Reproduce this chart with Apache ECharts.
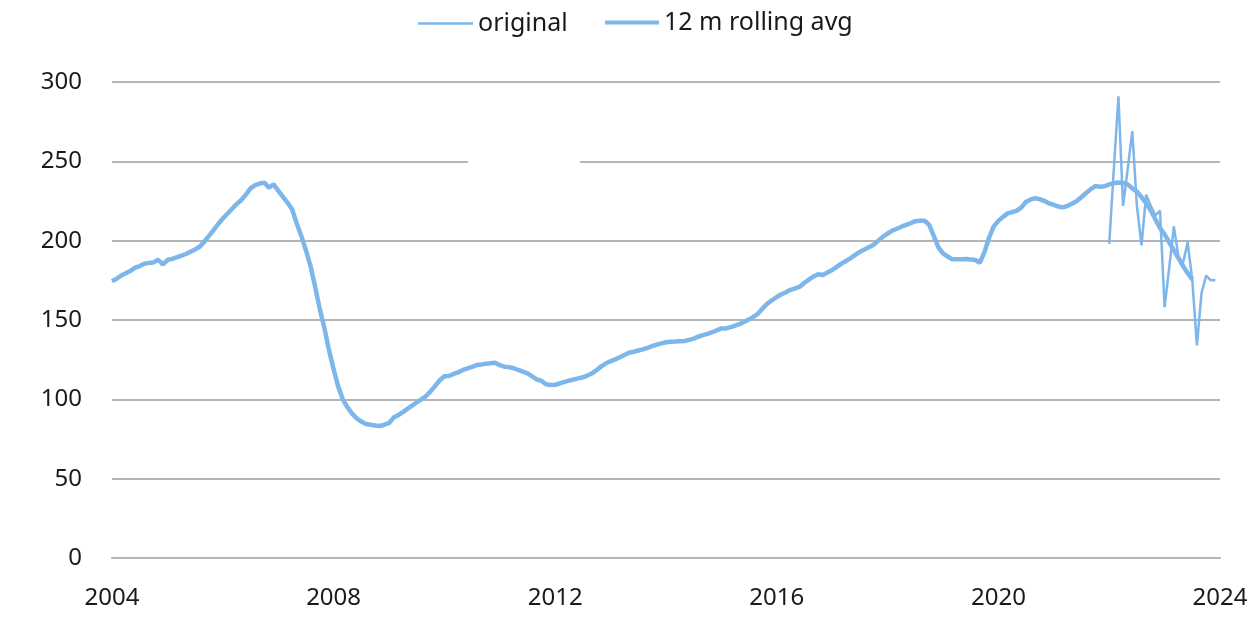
<!DOCTYPE html>
<html>
<head>
<meta charset="utf-8">
<script src="https://cdn.jsdelivr.net/npm/echarts@6/dist/echarts.min.js"></script>
<style>
  html, body { margin: 0; padding: 0; background: #fff; }
  #chart { width: 1260px; height: 628px; }
</style>
</head>
<body>
<div id="chart"></div>
<script>
// monthly, starting Jan 2004
const startYear = 2004;
const monthCount = 241; // Jan 2004 .. Jan 2024

// 12 m rolling avg, Jan 2004 .. Jul 2023
const rollingAvg = [
  174.5, 176, 178, 179.5, 181, 183, 184, 185.5, 186, 186.3, 188, 185,
  187.8, 188.5, 189.5, 190.5, 191.6, 193, 194.5, 196.2, 199.4, 203, 206.7, 210.5,
  214, 217, 220, 223, 225.6, 229, 233, 235, 236, 236.6, 233.4, 235.5,
  231.5, 227.7, 224, 219.8, 211, 203, 194, 184, 171, 157, 145, 131,
  119, 108, 100, 95, 91, 88, 86, 84.5, 84, 83.5, 83.2, 84,
  85, 88.5, 90, 92, 94, 96, 98, 100, 102, 105, 108.5, 112,
  114.5, 114.7, 116, 117, 118.5, 119.5, 120.5, 121.6, 122, 122.5, 122.7, 123,
  121.5, 120.6, 120.3, 119.6, 118.5, 117.5, 116.4, 114.5, 112.6, 111.7, 109.5, 109,
  109.2, 110, 111, 111.8, 112.5, 113.2, 113.9, 115, 116.4, 118.5, 120.8, 122.7,
  124, 125.2, 126.5, 128, 129.4, 130, 130.8, 131.5, 132.5, 133.5, 134.5, 135.3,
  136, 136.3, 136.4, 136.6, 136.8, 137.5, 138.3, 139.5, 140.5, 141.3, 142.3, 143.5,
  144.7, 144.7, 145.5, 146.5, 147.5, 148.9, 150.4, 152, 154.2, 157.5, 160.5, 162.5,
  164.5, 166.2, 167.5, 169, 170, 171, 173.5, 175.6, 177.5, 178.8, 178.4, 180,
  181.5, 183.5, 185.5, 187.2, 189, 191, 193, 194.5, 196, 197.5, 200, 202.5,
  204.5, 206.3, 207.5, 208.8, 209.9, 211, 212.3, 212.6, 212.6, 210, 203, 195.8,
  192, 190, 188.3, 188.3, 188.3, 188.5, 188.2, 187.8, 186.1, 193, 202, 209,
  212.5, 215, 217.2, 218, 218.9, 221, 224.5, 226, 226.7, 226, 225, 223.5,
  222.5, 221.5, 221, 222, 223.5, 225, 227.5, 230, 232.5, 234.4, 234, 234.3,
  235.5, 236.2, 236.6, 236.4, 235.5, 233, 230.9, 227.5, 223.6, 219, 213.5, 208,
  204, 199, 194.1, 189, 184, 179.5, 175.6
];

// original, Jan 2022 .. Dec 2023
const originalStart = 216;
const original = [
  198, 245, 291, 222, 245, 269, 222, 197, 229, 222, 216, 219,
  158, 183, 209, 190, 186, 199, 175, 134, 167, 178, 175, 175
];

const yTicks = { min: 0, max: 300, step: 50 };

const lineColor = '#7cb6ea';
const gridColor = '#b4b4b4';
const fontFamily = '"Noto Sans", sans-serif';

let months = [];
for (var i = 0; i < monthCount; i++) {
  let y = startYear + Math.floor(i / 12);
  let m = (i % 12) + 1;
  months.push(y + '-' + (m < 10 ? '0' + m : m));
}

let originalData = [];
for (var i = 0; i < originalStart; i++) {
  originalData.push('-');
}
originalData = originalData.concat(original);

const legendText = { fontSize: 25, color: '#1a1a1a', fontFamily: fontFamily };

var chart = echarts.init(document.getElementById('chart'));
chart.setOption({
  animation: false,
  backgroundColor: '#fff',
  textStyle: { fontFamily: fontFamily },
  // two legends so each key line can have its own thickness
  legend: [
    {
      top: 6,
      left: 413,
      icon: 'rect',
      itemWidth: 55,
      itemHeight: 2.5,
      itemGap: 10,
      textStyle: legendText,
      data: ['original']
    },
    {
      top: 5,
      left: 600,
      icon: 'rect',
      itemWidth: 54,
      itemHeight: 4,
      textStyle: legendText,
      data: ['12 m rolling avg']
    }
  ],
  grid: {
    left: 112,
    right: 40,
    top: 82,
    bottom: 70,
    containLabel: false
  },
  xAxis: {
    type: 'category',
    data: months,
    boundaryGap: false,
    axisLine: { show: true, lineStyle: { color: gridColor, width: 2 } },
    axisTick: { show: false },
    axisLabel: {
      interval: 47,
      showMaxLabel: true,
      margin: 28,
      fontSize: 24,
      color: '#1a1a1a',
      formatter: function (v) { return v.slice(0, 4); }
    },
    splitLine: { show: false }
  },
  yAxis: {
    type: 'value',
    min: yTicks.min,
    max: yTicks.max,
    interval: yTicks.step,
    axisLine: { show: false },
    axisTick: { show: false },
    axisLabel: { margin: 30, fontSize: 24, color: '#1a1a1a' },
    splitLine: { lineStyle: { color: gridColor, width: 2 } }
  },
  graphic: [
    {
      // break in the 250 gridline, as in the source
      type: 'rect',
      shape: { x: 468, y: 157, width: 112, height: 8 },
      style: { fill: '#fff' },
      z: 1
    }
  ],
  series: [
    {
      name: 'original',
      type: 'line',
      data: originalData,
      symbol: 'none',
      connectNulls: false,
      itemStyle: { color: lineColor },
      lineStyle: { color: lineColor, width: 2.5 },
      z: 3
    },
    {
      name: '12 m rolling avg',
      type: 'line',
      data: rollingAvg,
      symbol: 'none',
      itemStyle: { color: lineColor },
      lineStyle: { color: lineColor, width: 4.5 },
      z: 2
    }
  ]
});
</script>
</body>
</html>
